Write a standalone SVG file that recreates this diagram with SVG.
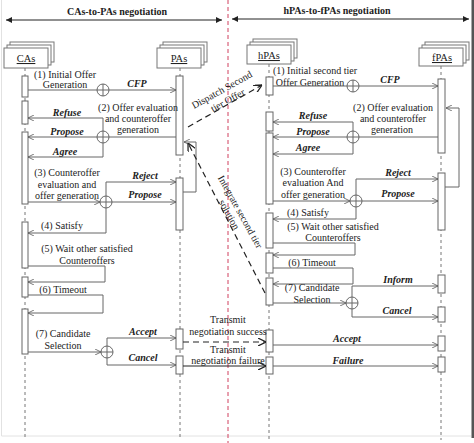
<svg xmlns="http://www.w3.org/2000/svg" width="474" height="443" viewBox="0 0 474 443">
<style>
text{font-family:"Liberation Serif","Times New Roman",serif;font-size:10px;fill:#222}
.t{font-weight:bold;font-size:10px}
.m{font-weight:bold;font-style:italic}
.c{text-anchor:middle}
.u{text-decoration:underline;font-size:10.5px}
.box{fill:#fff;stroke:#777;stroke-width:1}
.act{fill:#fff;stroke:#666;stroke-width:1}
.life{stroke:#777;stroke-width:1;stroke-dasharray:3,3;fill:none}
.ln{stroke:#666;stroke-width:1;fill:none}
.la{stroke:#666;stroke-width:1;fill:none;marker-end:url(#oa)}
.da{stroke:#222;stroke-width:1.2;fill:none;stroke-dasharray:6,4;marker-end:url(#ba)}
.xor{fill:#fff;stroke:#666;stroke-width:1}
</style>
<defs>
<marker id="oa" viewBox="0 0 10 10" refX="10" refY="5" markerWidth="6" markerHeight="6" markerUnits="userSpaceOnUse" orient="auto"><path d="M0,0 L10,5 L0,10" fill="none" stroke="#555" stroke-width="1.3"/></marker>
<marker id="ba" viewBox="0 0 10 10" refX="10" refY="5" markerWidth="8" markerHeight="8" markerUnits="userSpaceOnUse" orient="auto"><path d="M0,0 L10,5 L0,10" fill="none" stroke="#222" stroke-width="1.6"/></marker>
<marker id="fa" viewBox="0 0 10 10" refX="10" refY="5" markerWidth="7" markerHeight="6" markerUnits="userSpaceOnUse" orient="auto-start-reverse"><path d="M0,0 L10,5 L0,10 z" fill="#222"/></marker>
<g id="xorsym"><circle cx="0" cy="0" r="6" class="xor"/><path d="M-6,0 H6 M0,-6 V6" stroke="#666" stroke-width="1"/></g>
</defs>
<rect width="474" height="443" fill="#fff"/>
<path d="M1.5,0 V436 H471" stroke="#e2e2e2" stroke-width="1" fill="none"/>
<rect x="471.5" y="0" width="2.5" height="438" fill="#555"/>

<g id="titles">
<text class="t c" x="117" y="15">CAs-to-PAs negotiation</text>
<line x1="6" y1="20" x2="222" y2="20" stroke="#222" stroke-width="1" marker-start="url(#fa)" marker-end="url(#fa)"/>
<text class="t c" x="337" y="14">hPAs-to-fPAs negotiation</text>
<line x1="232" y1="19" x2="469" y2="19" stroke="#222" stroke-width="1" marker-start="url(#fa)" marker-end="url(#fa)"/>
<line x1="228" y1="0" x2="228" y2="443" stroke="#d0405e" stroke-width="1" stroke-dasharray="4,3"/>
</g>

<g id="CAs">
<rect class="box" x="10" y="42" width="44" height="20"/>
<rect class="box" x="7" y="45" width="44" height="20"/>
<rect class="box" x="4" y="48" width="44" height="20"/>
<text class="u c" x="26" y="62">CAs</text>
<line class="life" x1="25" y1="68" x2="25" y2="440"/>
<rect class="act" x="22" y="76" width="6" height="21"/>
<rect class="act" x="22" y="101" width="6" height="23"/>
<rect class="act" x="22" y="132" width="6" height="72"/>
<rect class="act" x="22" y="222" width="6" height="46"/>
<rect class="act" x="22" y="277" width="6" height="20"/>
<rect class="act" x="22" y="309" width="6" height="45"/>
</g>

<g id="PAs">
<rect class="box" x="163" y="42" width="44" height="20"/>
<rect class="box" x="160" y="45" width="44" height="20"/>
<rect class="box" x="157" y="48" width="44" height="20"/>
<text class="u c" x="179" y="62">PAs</text>
<line class="life" x1="180" y1="68" x2="180" y2="440"/>
<rect class="act" x="176" y="76" width="7" height="79"/>
<rect class="act" x="176" y="178" width="7" height="52"/>
<rect class="act" x="176" y="329" width="7" height="20"/>
<rect class="act" x="176" y="356" width="7" height="18"/>
</g>

<g id="hPAs">
<rect class="box" x="253" y="39" width="44" height="19"/>
<rect class="box" x="250" y="42" width="44" height="19"/>
<rect class="box" x="247" y="45" width="44" height="19"/>
<text class="u c" x="269" y="59">hPAs</text>
<line class="life" x1="269" y1="64" x2="269" y2="440"/>
<rect class="act" x="266" y="77" width="7" height="18"/>
<rect class="act" x="266" y="112" width="7" height="19"/>
<rect class="act" x="266" y="133" width="7" height="71"/>
<rect class="act" x="266" y="213" width="7" height="35"/>
<rect class="act" x="266" y="253" width="7" height="20"/>
<rect class="act" x="266" y="278" width="7" height="27"/>
<rect class="act" x="266" y="330" width="7" height="22"/>
<rect class="act" x="266" y="357" width="7" height="17"/>
</g>

<g id="fPAs">
<rect class="box" x="425" y="42" width="44" height="18"/>
<rect class="box" x="422" y="45" width="44" height="18"/>
<rect class="box" x="419" y="48" width="44" height="18"/>
<text class="u c" x="442" y="61">fPAs</text>
<line class="life" x1="441" y1="66" x2="441" y2="440"/>
<rect class="act" x="438" y="79" width="7" height="74"/>
<rect class="act" x="438" y="173" width="7" height="57"/>
<rect class="act" x="438" y="275" width="7" height="18"/>
<rect class="act" x="438" y="307" width="7" height="15"/>
<rect class="act" x="438" y="336" width="7" height="15"/>
<rect class="act" x="438" y="357" width="7" height="15"/>
</g>

<g id="connectors">
<!-- left side -->
<text class="c" x="65" y="78">(1) Initial Offer</text>
<text class="c" x="65" y="88">Generation</text>
<line class="ln" x1="28" y1="90" x2="97" y2="90"/>
<use href="#xorsym" x="103" y="90"/>
<line class="la" x1="109" y1="90" x2="176" y2="90"/>
<text class="m c" x="137" y="87">CFP</text>

<text class="c" x="138" y="111">(2) Offer evaluation</text>
<text class="c" x="138" y="122">and counteroffer</text>
<text class="c" x="138" y="133">generation</text>
<line class="ln" x1="176" y1="137" x2="109" y2="137"/>
<use href="#xorsym" x="103" y="137"/>
<line class="la" x1="97" y1="137" x2="28" y2="137"/>
<path class="la" d="M103,131 V118 H28"/>
<path class="la" d="M103,143 V157 H28"/>
<text class="m c" x="67" y="116">Refuse</text>
<text class="m c" x="67" y="135">Propose</text>
<text class="m c" x="65" y="155">Agree</text>

<text class="c" x="67" y="176">(3) Counteroffer</text>
<text class="c" x="67" y="188">evaluation and</text>
<text class="c" x="67" y="199">offer generation</text>
<line class="la" x1="28" y1="202" x2="100" y2="202"/>
<use href="#xorsym" x="106" y="202"/>
<path class="la" d="M106,196 V182 H176"/>
<line class="la" x1="112" y1="202" x2="176" y2="202"/>
<path class="la" d="M106,208 V233 H28"/>
<text class="m c" x="145" y="179">Reject</text>
<text class="m c" x="145" y="198">Propose</text>
<text class="c" x="62" y="229">(4) Satisfy</text>

<text class="c" x="87" y="252">(5) Wait other satisfied</text>
<text class="c" x="87" y="264">Counteroffers</text>
<path class="la" d="M28,266 H105 V282 H28"/>
<text class="c" x="63" y="293">(6) Timeout</text>
<path class="la" d="M28,295 H103 V313 H28"/>

<text class="c" x="63" y="337">(7) Candidate</text>
<text class="c" x="63" y="349">Selection</text>
<line class="la" x1="28" y1="352" x2="101" y2="352"/>
<use href="#xorsym" x="107" y="352"/>
<path class="la" d="M107,346 V338 H176"/>
<path class="la" d="M107,358 V365 H176"/>
<text class="m c" x="143" y="335">Accept</text>
<text class="m c" x="143" y="361">Cancel</text>

<!-- PAs self loop -->
<path class="la" d="M183,192 H196 V142 H184"/>

<!-- cross tier -->
<line class="da" x1="188" y1="127" x2="262" y2="85"/>
<g transform="translate(222.5,91) rotate(-29)">
<text class="c" x="0" y="2">Dispatch Second</text>
<text class="c" x="0" y="14">tier Offer</text>
</g>
<line class="da" x1="265" y1="293" x2="188" y2="143"/>
<g transform="translate(240,212) rotate(61)">
<text class="c" x="0" y="3">Integrate second tier</text>
<text class="c" x="-3" y="14">solution</text>
</g>
<text class="c" x="228" y="323">Transmit</text>
<text class="c" x="228" y="335">negotiation success</text>
<line class="da" x1="183" y1="342" x2="266" y2="342"/>
<text class="c" x="228" y="353">Transmit</text>
<text class="c" x="228" y="364">negotiation failure</text>
<line x1="183" y1="366" x2="266" y2="366" stroke="#222" stroke-width="1" marker-end="url(#ba)"/>

<!-- right side -->
<text class="c" x="315" y="74">(1) Initial second tier</text>
<text class="c" x="310" y="86">Offer Generation</text>
<line class="ln" x1="273" y1="86" x2="347" y2="86"/>
<use href="#xorsym" x="353" y="86"/>
<line class="la" x1="359" y1="86" x2="438" y2="86"/>
<text class="m c" x="390" y="83">CFP</text>

<text class="c" x="393" y="111">(2) Offer evaluation</text>
<text class="c" x="393" y="122">and  counteroffer</text>
<text class="c" x="392" y="133">generation</text>
<line class="ln" x1="438" y1="137" x2="359" y2="137"/>
<use href="#xorsym" x="353" y="137"/>
<line class="la" x1="347" y1="137" x2="273" y2="137"/>
<path class="la" d="M353,131 V122 H273"/>
<path class="la" d="M353,143 V154 H273"/>
<text class="m c" x="313" y="119">Refuse</text>
<text class="m c" x="313" y="135">Propose</text>
<text class="m c" x="308" y="151">Agree</text>

<path class="la" d="M445,187 H459 V108 H446"/>

<text class="c" x="313" y="175">(3) Counteroffer</text>
<text class="c" x="313" y="186">evaluation And</text>
<text class="c" x="313" y="198">offer generation</text>
<line class="la" x1="273" y1="201" x2="350" y2="201"/>
<use href="#xorsym" x="356" y="201"/>
<path class="la" d="M356,195 V179 H438"/>
<line class="la" x1="362" y1="201" x2="438" y2="201"/>
<path class="la" d="M356,207 V219 H273"/>
<text class="m c" x="398" y="176">Reject</text>
<text class="m c" x="398" y="197">Propose</text>
<text class="c" x="308" y="216">(4) Satisfy</text>

<text class="c" x="333" y="230">(5) Wait other satisfied</text>
<text class="c" x="333" y="241">Counteroffers</text>
<path class="la" d="M273,243 H355 V255 H273"/>
<text class="c" x="312" y="266">(6) Timeout</text>
<path class="la" d="M273,268 H353 V284 H273"/>

<text class="c" x="312" y="291">(7) Candidate</text>
<text class="c" x="312" y="303">Selection</text>
<line class="la" x1="273" y1="303" x2="346" y2="303"/>
<use href="#xorsym" x="352" y="303"/>
<path class="la" d="M352,297 V286 H438"/>
<path class="la" d="M352,309 V317 H438"/>
<text class="m c" x="398" y="283">Inform</text>
<text class="m c" x="397" y="314">Cancel</text>

<line class="la" x1="273" y1="345" x2="438" y2="345"/>
<text class="m c" x="347" y="342">Accept</text>
<line class="la" x1="273" y1="366" x2="438" y2="366"/>
<text class="m c" x="348" y="364">Failure</text>
</g>
</svg>
